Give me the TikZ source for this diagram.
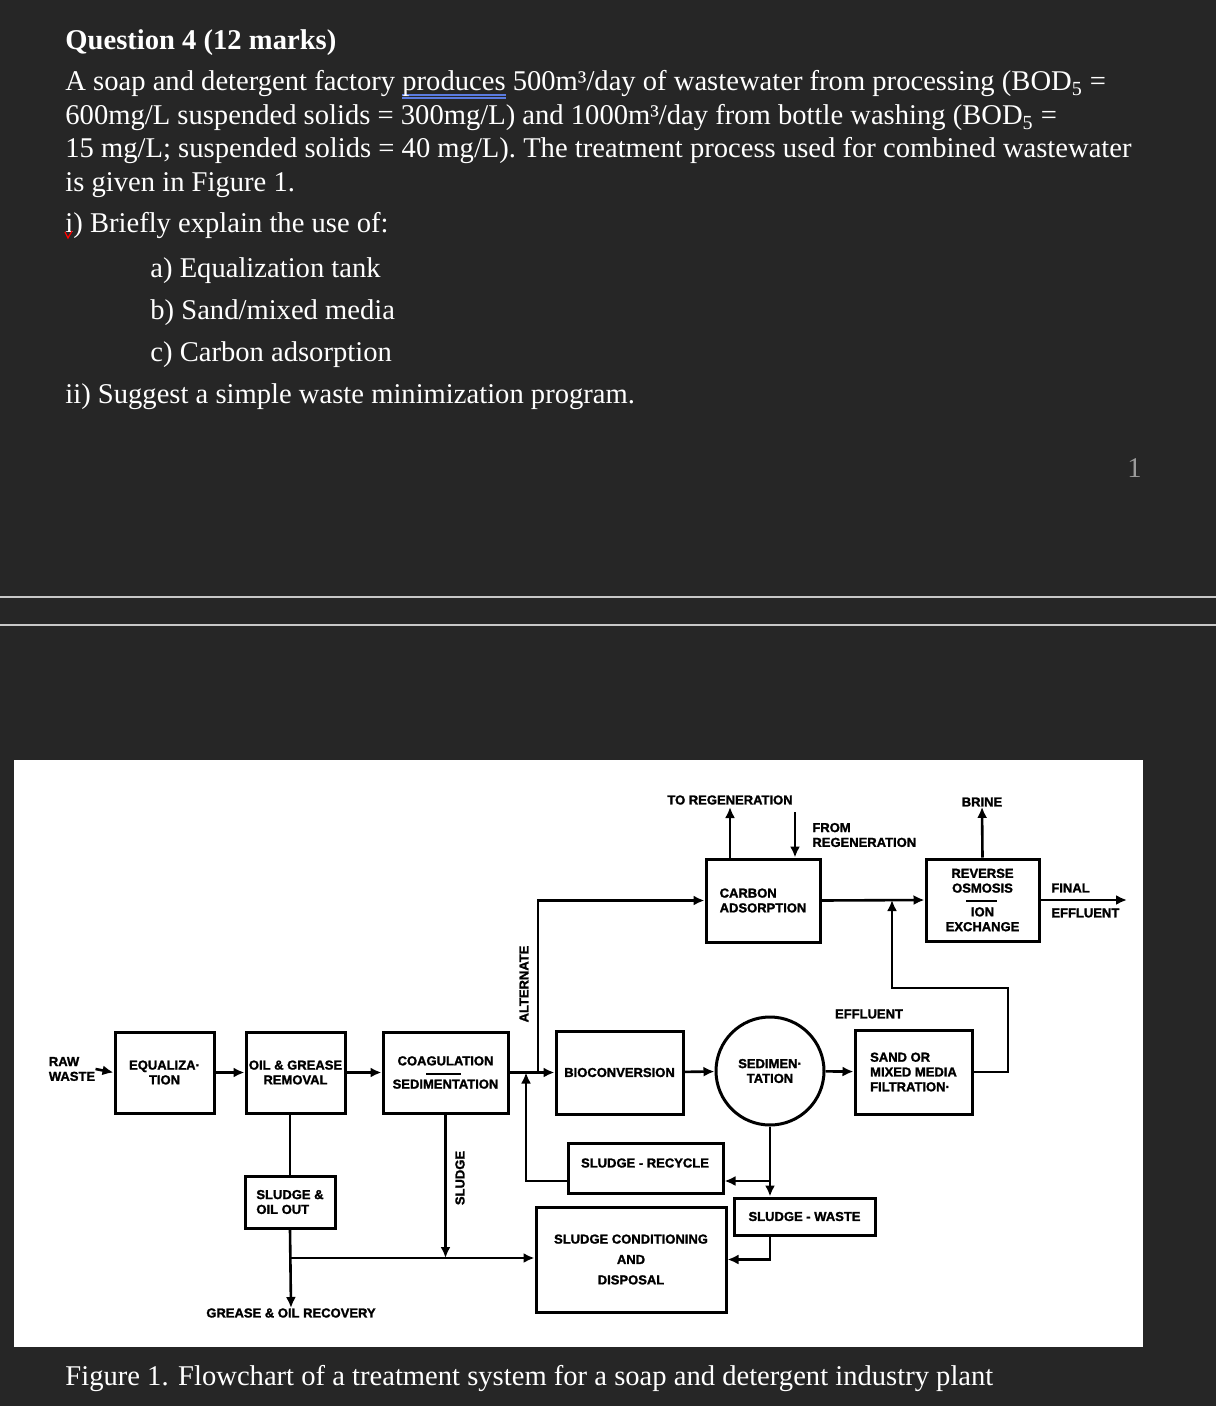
\documentclass[tikz,border=0pt]{standalone}
\usepackage{fontspec}
\setmainfont{Liberation Serif}
\setsansfont{Liberation Sans}
\newfontfamily\diafont{Liberation Sans Bold}[FakeBold=1.6]
\usetikzlibrary{arrows.meta,calc}
\definecolor{bg}{HTML}{262626}
\definecolor{rulegray}{HTML}{C8C8C8}
\definecolor{ulblue}{HTML}{5A7BE0}
\definecolor{pgnum}{HTML}{9A9A9A}
\newlength\ulw
\newcommand\blueul[1]{\settowidth{\ulw}{#1}\rlap{\textcolor{ulblue}{\rule[-2.4pt]{\ulw}{0.7pt}}}\rlap{\textcolor{ulblue}{\rule[-3.9pt]{\ulw}{0.7pt}}}#1}
\begin{document}
\begin{tikzpicture}[x=0.5pt,y=-0.5pt,
  q/.style={anchor=base west, inner sep=0, text=white, font=\fontsize{14.3}{16}\selectfont},
  box/.style={draw, line width=1.5pt, inner sep=0, rectangle, align=center,
    font=\diafont\fontsize{6.5}{7.4}\selectfont},
  lbl/.style={font=\diafont\fontsize{6.5}{7.4}\selectfont, inner sep=0, align=center},
  flow/.style={line width=1.3pt, -{Latex[length=5.5pt,width=5pt]}},
  ln/.style={line width=1.3pt}]
\useasboundingbox (0,0) rectangle (1216,1406);
\fill[bg] (0,0) rectangle (1216,1406);
% separator rules
\draw[rulegray, line width=1pt] (0,597) -- (1216,597);
\draw[rulegray, line width=1pt] (0,625) -- (1216,625);
% question text
\node[q, font=\bfseries\fontsize{14.3}{16}\selectfont] (title) at (65,50) {Question 4 (12 marks)};
\node[q] (l1) at (65,91) {A soap and detergent factory \blueul{produces} 500m³/day of wastewater from processing (BOD\textsubscript{5} =};
\node[q] (l2) at (65,125) {600mg/L suspended solids = 300mg/L) and 1000m³/day from bottle washing (BOD\textsubscript{5} =};
\node[q] (l3) at (65,158) {15 mg/L; suspended solids = 40 mg/L). The treatment process used for combined wastewater};
\node[q] (l4) at (65,192) {is given in Figure 1.};
\node[q] (l5) at (65,233) {i) Briefly explain the use of:};
\draw[red, line width=0.6pt] (65,232) -- (68,238) -- (72,231);
\node[q] (la) at (150,278) {a) Equalization tank};
\node[q] (lb) at (150,320) {b) Sand/mixed media};
\node[q] (lc) at (150,362) {c) Carbon adsorption};
\node[q] (lii) at (65,404) {ii) Suggest a simple waste minimization program.};
\node[q, text=pgnum] (pg) at (1127,477) {1};
% figure panel
\fill[white] (14,760) rectangle (1143,1347);
\node[q] (cap) at (65,1385) {Figure 1. Flowchart of a treatment system for a soap and detergent industry plant};
% boxes
\node[box, minimum width=49.5pt, minimum height=40.5pt] (eq) at (164.5,1072.5) {EQUALIZA·\\TION};
\node[box, minimum width=49.5pt, minimum height=40.5pt] (oil) at (295.5,1072.5) {OIL \& GREASE\\REMOVAL};
\node[box, minimum width=62.5pt, minimum height=40.5pt] (coag) at (445.5,1072.5) {COAGULATION\\[4.2pt]SEDIMENTATION};
\node[box, minimum width=63.5pt, minimum height=41.5pt] (bio) at (619.5,1072.5) {BIOCONVERSION};
\node[box, circle, minimum size=54pt] (sed) at (770,1071) {SEDIMEN·\\TATION};
\node[box, minimum width=58.5pt, minimum height=42pt, align=left] (sand) at (913.5,1072) {SAND OR\\MIXED MEDIA\\FILTRATION·};
\node[box, minimum width=57pt, minimum height=41.5pt, align=left] (carbon) at (763,900.5) {CARBON\\ADSORPTION};
\node[box, minimum width=56.5pt, minimum height=41pt] (ro) at (982.5,900) {REVERSE\\OSMOSIS\\[4.5pt]ION\\EXCHANGE};
\node[box, minimum width=45pt, minimum height=26pt, align=left] (soil) at (290,1202) {SLUDGE \&\\OIL OUT};
\node[box, minimum width=77.5pt, minimum height=25pt] (recycle) at (645.5,1168) {};
\node[lbl] (recyclet) at (645,1163) {SLUDGE - RECYCLE};
\node[box, minimum width=70.5pt, minimum height=18.5pt] (swaste) at (804.5,1216.5) {SLUDGE - WASTE};
\node[box, minimum width=95pt, minimum height=52.5pt, font=\diafont\fontsize{6.5}{10.2}\selectfont] (cond) at (631,1259.5) {SLUDGE CONDITIONING\\AND\\DISPOSAL};
% divider rules inside boxes
\draw[line width=1pt] (426,1073.5) -- (461,1073.5);
\draw[line width=1pt] (966,901) -- (997,901);
% free labels
\node[lbl, align=left] (raw) at (72,1069) {RAW\\WASTE};
\node[lbl] (grease) at (291,1313) {GREASE \& OIL RECOVERY};
\node[lbl, rotate=90] (sludgelbl) at (460,1178) {SLUDGE};
\node[lbl, rotate=90] (altlbl) at (524,984) {ALTERNATE};
\node[lbl] (toreg) at (730,800) {TO REGENERATION};
\node[lbl, anchor=west, align=left] (fromreg) at (812,835) {FROM\\REGENERATION};
\node[lbl] (brine) at (982,802) {BRINE};
\node[lbl, anchor=west] (final1) at (1051,888) {FINAL};
\node[lbl, anchor=west] (final2) at (1051,913) {EFFLUENT};
\node[lbl] (efflbl) at (869,1014) {EFFLUENT};
% coordinates
\coordinate (jR) at (526,1072.5);
\coordinate (jA) at (538,1072.5);
\coordinate (br) at (770,1181);
\coordinate (jG) at (290,1258);
\coordinate (ret) at (1008,988);
\coordinate (jE) at (892,900);
\coordinate (fin) at (1127,900);
\coordinate (fr) at (795,812);
% connectors
\draw[flow] (raw.east) -- (eq.west);
\draw[flow] (eq) -- (oil);
\draw[flow] (oil) -- (coag);
\draw[flow] (coag.east) -- (bio.west);
\draw[flow] (jA) |- (carbon.west);
\draw[flow] (bio) -- (sed);
\draw[flow] (sed) -- (sand);
\draw[flow] (carbon.east) -- (ro.west);
\draw[flow] (ro.east) -- (fin);
\draw[flow] (ro.north) -- (brine.south);
\draw[flow] (toreg.south |- carbon.north) -- ([yshift=-1pt]toreg.south);
\draw[flow] (fr) -- (fr |- carbon.north);
\draw[flow] (sand.east) -| (ret) -| (jE);
\draw[flow] (sed.south) -- (sed.south |- swaste.north);
\draw[flow] (br) -- (br -| recycle.east);
\draw[flow] (br -| recycle.west) -| (jR);
\draw[flow] (swaste.south -| br) |- (cond.east);
\draw[ln] (oil.south -| soil.north) -- (soil.north);
\draw[flow] (soil.south) -- (grease.north);
\draw[flow] (jG) -- (jG -| cond.west);
\draw[flow] (coag.south) -- (coag.south |- jG);
\end{tikzpicture}
\end{document}
